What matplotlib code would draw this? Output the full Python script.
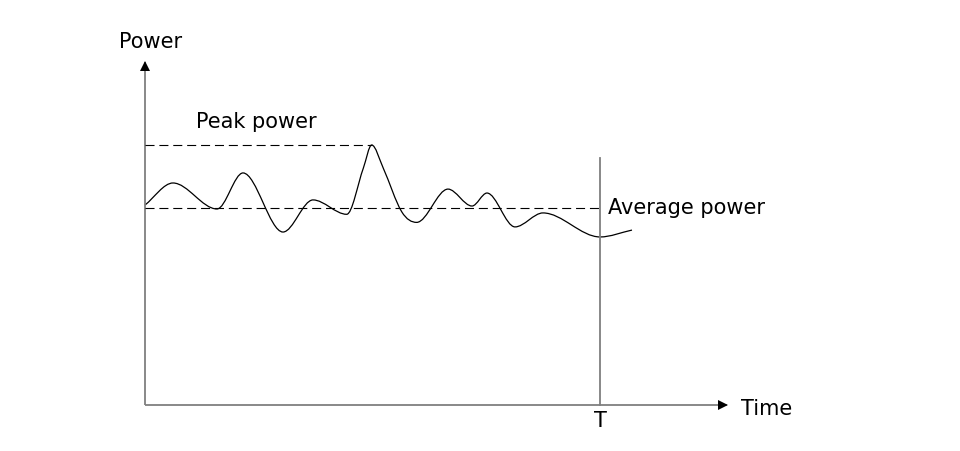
import matplotlib
matplotlib.use('Agg')
import matplotlib.pyplot as plt
from matplotlib.path import Path
from matplotlib.patches import PathPatch

# power curve (time in units where T = 10, power where average = 1)
time_pts = [0.0, 0.615, 1.582, 2.154, 3.033, 3.692, 4.433, 4.798, 4.982, 5.237,
            5.642, 5.971, 6.659, 7.187, 7.516, 8.132, 8.747, 10.0, 10.703]
power_pts = [1.015, 1.127, 0.995, 1.178, 0.878, 1.041, 0.968, 1.202, 1.320, 1.202,
             0.981, 0.927, 1.096, 1.010, 1.076, 0.904, 0.975, 0.853, 0.888]

T = 10.0
peak_power = 1.32
avg_power = 1.0
x_axis_end = 12.79
y_axis_end = 1.741
t_line_top = 1.254

AXIS_GREY = '#7f7f7f'
plt.rcParams['font.family'] = ['DejaVu Sans']
plt.rcParams['lines.scale_dashes'] = False


def smooth_path(xs, ys):
    # cubic hermite through the points, flat at peaks and troughs
    n = len(xs)
    slopes = []
    for i in range(n):
        if i == 0:
            m = (ys[1] - ys[0]) / (xs[1] - xs[0])
        elif i == n - 1:
            m = (ys[-1] - ys[-2]) / (xs[-1] - xs[-2])
        elif (ys[i] - ys[i - 1]) * (ys[i + 1] - ys[i]) < 0:
            m = 0.0
        else:
            m = (ys[i + 1] - ys[i - 1]) / (xs[i + 1] - xs[i - 1])
        slopes.append(m)
    verts = [(xs[0], ys[0])]
    codes = [Path.MOVETO]
    for i in range(n - 1):
        h = xs[i + 1] - xs[i]
        verts += [(xs[i] + h / 3, ys[i] + slopes[i] * h / 3),
                  (xs[i + 1] - h / 3, ys[i + 1] - slopes[i + 1] * h / 3),
                  (xs[i + 1], ys[i + 1])]
        codes += [Path.CURVE4] * 3
    return Path(verts, codes)


fig = plt.figure(figsize=(9.6, 4.51), dpi=100)
ax = fig.add_axes([0, 0, 1, 1])
ax.set_xlim(-145 / 45.5, 815 / 45.5)
ax.set_ylim(-46 / 197, 405 / 197)
ax.axis('off')

# axes with arrow heads
ax.plot([0, x_axis_end], [0, 0], color=AXIS_GREY, lw=1.3, solid_capstyle='butt')
ax.plot([0, 0], [0, y_axis_end], color=AXIS_GREY, lw=1.3, solid_capstyle='butt')
ax.plot([x_axis_end - 0.09], [0], marker='>', color='black', ms=6.5, mew=0)
ax.plot([0], [y_axis_end - 0.02], marker='^', color='black', ms=6.5, mew=0)

# T marker line
ax.plot([T, T], [0, t_line_top], color=AXIS_GREY, lw=1.3)

# reference levels
ax.plot([0, time_pts[power_pts.index(max(power_pts))]], [peak_power, peak_power],
        color='black', lw=0.8, dashes=(6.5, 3.5))
ax.plot([0, T], [avg_power, avg_power], color='black', lw=0.8, dashes=(6.5, 3.5))

ax.add_patch(PathPatch(smooth_path(time_pts, power_pts), fill=False,
                       edgecolor='black', lw=0.9))

fs = 15
ax.text(0.13, 1.845, 'Power', fontsize=fs, ha='center', va='center')
ax.text(1.13, 1.436, 'Peak power', fontsize=fs, ha='left', va='center')
ax.text(10.17, 1.0, 'Average power', fontsize=fs, ha='left', va='center')
ax.text(13.1, -0.02, 'Time', fontsize=fs, ha='left', va='center')
ax.text(T, -0.08, 'T', fontsize=fs, ha='center', va='center')

fig.savefig('out.png', dpi=100)
